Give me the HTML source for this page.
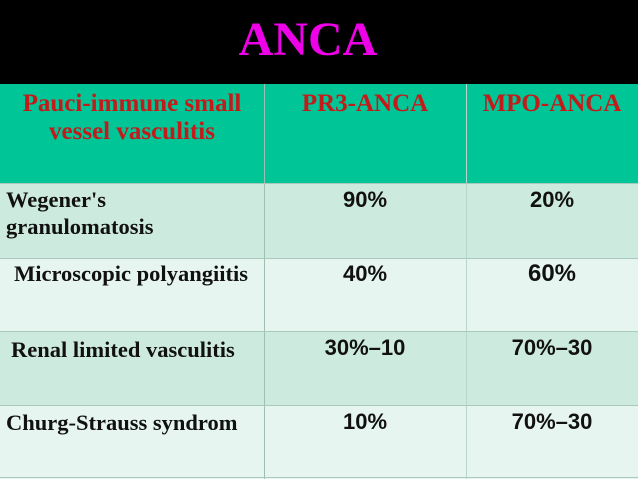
<!DOCTYPE html>
<html><head><meta charset="utf-8"><style>
body{margin:0;width:638px;height:479px;overflow:hidden;background:#e6f4ee;position:relative}
div{position:absolute;box-sizing:border-box}
.c{font:bold 22.5px "Liberation Serif",serif;color:#111;line-height:27px;white-space:nowrap}
.n{font:bold 22px "Liberation Sans",sans-serif;color:#111;text-align:center;line-height:24px}
.h{font:bold 25px "Liberation Serif",serif;color:#c41a1a;text-align:center;line-height:28px;white-space:nowrap}
.vl{background:#9fbfb3;width:1px}
.hl{background:#a9c9bd;height:1px;left:0;width:638px}
</style></head><body>
<div style="left:0;top:0;width:638px;height:84px;background:#000"></div>
<div style="left:180px;top:12px;width:256px;text-align:center;font:bold 48px 'Liberation Serif',serif;color:#ee00e8;line-height:56px">ANCA</div>
<div style="left:0;top:84px;width:638px;height:99px;background:#00c596"></div>
<div style="left:0;top:183px;width:638px;height:75px;background:#cdeade"></div>
<div style="left:0;top:258px;width:638px;height:74px;background:#e6f5ef"></div>
<div style="left:0;top:332px;width:638px;height:74px;background:#cdeade"></div>
<div style="left:0;top:406px;width:638px;height:73px;background:#e6f5ef"></div>
<div class="vl" style="left:264px;top:84px;height:395px"></div>
<div class="vl" style="left:466px;top:84px;height:395px;background:#b8d6cb"></div>
<div class="hl" style="top:183px"></div><div class="hl" style="top:258px"></div><div class="hl" style="top:331px"></div><div class="hl" style="top:405px"></div><div class="hl" style="top:477px"></div>
<div class="h" style="left:0;top:90px;width:264px">Pauci-immune small<br>vessel vasculitis</div>
<div class="h" style="left:264px;top:90px;width:202px">PR3-ANCA</div>
<div class="h" style="left:466px;top:90px;width:172px">MPO-ANCA</div>
<div class="c" style="left:6px;top:186px">Wegener's<br>granulomatosis</div>
<div class="c" style="left:14px;top:260px">Microscopic polyangiitis</div>
<div class="c" style="left:11px;top:336px">Renal limited vasculitis</div>
<div class="c" style="left:6px;top:409px">Churg-Strauss syndrom</div>
<div class="n" style="left:264px;top:188px;width:202px">90%</div>
<div class="n" style="left:466px;top:188px;width:172px">20%</div>
<div class="n" style="left:264px;top:262px;width:202px">40%</div>
<div class="n" style="left:466px;top:262px;width:172px;font-size:24px">60%</div>
<div class="n" style="left:264px;top:336px;width:202px">30%–10</div>
<div class="n" style="left:466px;top:336px;width:172px">70%–30</div>
<div class="n" style="left:264px;top:410px;width:202px">10%</div>
<div class="n" style="left:466px;top:410px;width:172px">70%–30</div>
</body></html>
